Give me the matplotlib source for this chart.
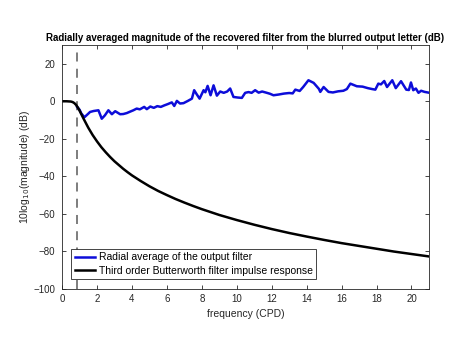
import numpy as np
import matplotlib as mpl

mpl.use('agg')
import matplotlib.pyplot as plt

FONT = 'Liberation Sans'
FONTSIZE = 7

# Radial average of the output filter
radial_freq = [0.86, 1.0, 1.1, 1.28, 1.5, 1.6, 1.8, 2.08, 2.27, 2.45, 2.65, 2.85, 3.04, 3.2, 3.32, 3.5, 3.7,
               3.9, 4.08, 4.27, 4.45, 4.7, 4.85, 5.05, 5.25, 5.45, 5.65, 5.85, 6.05, 6.28, 6.42, 6.57, 6.75,
               6.95, 7.2, 7.43, 7.56, 7.7, 7.87, 8.1, 8.2, 8.33, 8.5, 8.67, 8.86, 9.05, 9.25, 9.45, 9.62,
               9.81, 10.05, 10.29, 10.48, 10.67, 10.85, 11.05, 11.25, 11.45, 11.72, 11.9, 12.1, 12.4, 12.7,
               13.0, 13.2, 13.35, 13.6, 13.8, 14.1, 14.4, 14.7, 14.78, 14.97, 15.25, 15.5, 15.8, 16.1, 16.3,
               16.5, 16.87, 17.2, 17.5, 17.75, 17.93, 18.1, 18.25, 18.44, 18.6, 18.9, 19.1, 19.4, 19.7,
               19.85, 19.97, 20.1, 20.25, 20.4, 20.55, 20.75, 20.98]
radial_db = [-3.0, -4.5, -6.5, -8.5, -6.6, -5.7, -5.2, -4.8, -9.3, -7.5, -4.8, -6.9, -5.3, -6.2, -6.9, -6.8,
             -6.3, -5.5, -4.8, -3.9, -4.3, -3.0, -4.2, -2.8, -3.5, -2.6, -3.0, -2.2, -1.5, -0.6, -2.5, 0.2,
             -1.2, -1.0, 0.2, 1.4, 5.9, 3.8, 1.4, 5.9, 4.8, 8.2, 3.2, 8.5, 3.0, 5.2, 4.5, 5.2, 6.8,
             2.3, 2.0, 1.8, 4.5, 4.9, 4.5, 5.9, 4.6, 5.2, 4.5, 4.0, 3.2, 3.6, 4.1,
             4.4, 4.2, 6.2, 5.5, 7.6, 11.2, 9.8, 6.6, 5.0, 7.6, 5.0, 4.7, 5.3, 5.6, 6.5,
             9.4, 8.0, 7.8, 7.0, 6.5, 6.2, 9.4, 9.0, 10.8, 7.6, 11.2, 7.0, 10.7, 6.2,
             6.0, 10.0, 5.9, 6.8, 4.5, 5.6, 5.0, 4.6]

# Third order Butterworth filter impulse response
butter_freq = [0, 0.25, 0.5, 0.6, 0.7, 0.8, 0.9, 1.0, 1.25, 1.5, 1.75, 2.0, 2.25, 2.5, 2.75, 3.0, 3.25,
               3.5, 3.75, 4.0, 4.5, 5.0, 5.5, 6.0, 6.5, 7.0, 7.5, 8.0, 9.0, 10.0, 11.0, 12.0, 13.0, 14.0,
               15.0, 16.0, 17.0, 18.0, 19.0, 20.0, 21.0]
butter_db = [0, 0, -0.14, -0.41, -0.98, -1.94, -3.3, -5.0, -9.65, -14.1, -18.0, -21.4, -24.5, -27.2, -29.7,
             -32.0, -34.0, -36.0, -37.8, -39.5, -42.5, -45.3, -47.8, -50.0, -52.1, -54.0, -55.8, -57.5,
             -60.6, -63.3, -65.8, -68.1, -70.2, -72.1, -73.9, -75.6, -77.1, -78.6, -80.1, -81.4, -82.7]

cutoff = 0.86

fig = plt.figure(figsize=(4.74, 3.46), dpi=100)
ax = fig.add_axes([0.131, 0.165, 0.774, 0.705])

ax.axvline(cutoff, color=(0.45, 0.45, 0.45), linestyle=(0, (5, 4)), linewidth=1.3)
ax.plot(radial_freq, radial_db, color=(0.05, 0.05, 0.85), linewidth=1.8,
        label="Radial average of the output filter")
ax.plot(butter_freq, butter_db, color="black", linewidth=1.8,
        label="Third order Butterworth filter impulse response")

ax.set_xlim(0, 21)
ax.set_ylim(-100, 30)
ax.set_xticks(np.arange(0, 21, 2))
ax.set_yticks(np.arange(-100, 21, 20))

axis_color = (0.15, 0.15, 0.15)
for spine in ax.spines.values():
    spine.set_color(axis_color)
    spine.set_linewidth(0.6)
ax.tick_params(direction="in", top=True, right=True, length=3, width=0.6, color=axis_color,
               labelsize=FONTSIZE, labelcolor=axis_color)
ax.tick_params(axis="y", pad=5)
for label in ax.get_xticklabels() + ax.get_yticklabels():
    label.set_family(FONT)

ax.set_xlabel("frequency (CPD)", fontsize=FONTSIZE + 0.5, family=FONT, color=axis_color)
ax.set_ylabel("10log$_{10}$(magnitude) (dB)", fontsize=FONTSIZE + 0.5, family=FONT, color=axis_color,
              labelpad=1)
ax.set_title("Radially averaged magnitude of the recovered filter from the blurred output letter (dB)",
             fontsize=FONTSIZE, family=FONT, fontweight="bold", pad=3)

leg = ax.legend(loc="lower left", bbox_to_anchor=(0.024, 0.04), prop={"family": FONT, "size": FONTSIZE + 0.5},
                fancybox=False, framealpha=1, edgecolor=axis_color, handlelength=2.0,
                handletextpad=0.3, borderpad=0.35, labelspacing=0.3, borderaxespad=0)
leg.get_frame().set_linewidth(0.6)

fig.savefig("out.png", dpi=100)
